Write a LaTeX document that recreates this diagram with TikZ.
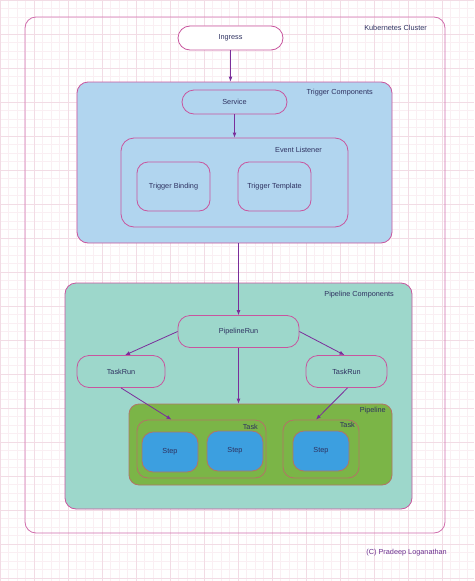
\documentclass[tikz,border=0pt]{standalone}
\usepackage{fontspec}
\setmainfont{Liberation Sans}
\usetikzlibrary{arrows.meta,positioning}
\definecolor{GridPink}{HTML}{FAEFF3}
\definecolor{GridPinkMajor}{HTML}{F2DCE5}
\definecolor{EdgePink}{HTML}{C8559E}
\definecolor{TaskBrown}{HTML}{B27465}
\definecolor{LabelInk}{HTML}{2E3160}
\definecolor{FlowPurple}{HTML}{7A2E9B}
\definecolor{TriggerBlue}{HTML}{B1D5EF}
\definecolor{PipeTeal}{HTML}{9DD7CB}
\definecolor{PipeGreen}{HTML}{7BB547}
\definecolor{StepBlue}{HTML}{3C9FE0}

\tikzset{
  box/.style={draw=EdgePink,line width=0.8pt,rounded corners=11pt,inner sep=0pt,
    text=LabelInk,font=\fontsize{7.3}{8}\selectfont},
  pill/.style={box,rounded corners=12pt,fill=white},
  taskbox/.style={box,draw=TaskBrown,fill=PipeGreen},
  stepbox/.style={box,draw=TaskBrown,fill=StepBlue,minimum width=56pt,minimum height=40pt},
  tag/.style={text=LabelInk,font=\fontsize{7.3}{8}\selectfont,inner sep=0pt},
  flow/.style={-{Latex[length=5pt,width=4pt]},FlowPurple,line width=0.8pt},
}

\begin{document}
\begin{tikzpicture}[x=1pt,y=-1pt]
  \useasboundingbox (0,0) rectangle (474,581);
  % grid paper
  \fill[white] (0,0) rectangle (474,581);
  \draw[GridPink,line width=0.4pt,step=8.5pt] (0,0) grid (474,581);
  \draw[GridPinkMajor,line width=0.5pt,step=34pt] (0,0) grid (474,581);

  % containers
  \node[box,draw=EdgePink!85,minimum width=420pt,minimum height=516pt] (cluster) at (235,275) {};
  \node[tag,anchor=east] (clustertag) at (427,28) {Kubernetes Cluster};

  \node[box,fill=TriggerBlue,minimum width=315pt,minimum height=161pt] (trigger) at (234.5,162.5) {};
  \node[tag,anchor=east] (triggertag) at (373,93) {Trigger Components};
  \node[box,fill=TriggerBlue,minimum width=227pt,minimum height=89pt,rounded corners=13pt] (listener) at (234.5,182.5) {};
  \node[tag,anchor=east] (listenertag) at (322,150) {Event Listener};

  \node[box,fill=PipeTeal,minimum width=347pt,minimum height=226pt] (pipecomp) at (238.5,396) {};
  \node[tag,anchor=east] (pipecomptag) at (394,295) {Pipeline Components};
  \node[box,draw=TaskBrown,fill=PipeGreen,minimum width=263pt,minimum height=81pt,rounded corners=10pt] (pipeline) at (260.5,444.5) {};
  \node[tag,anchor=east] (pipelinetag) at (386,411) {Pipeline};
  \node[taskbox,minimum width=129pt,minimum height=58pt] (task1) at (201.5,449) {};
  \node[tag,anchor=east] (task1tag) at (258,427) {Task};
  \node[taskbox,minimum width=76pt,minimum height=58pt] (task2) at (321,449) {};
  \node[tag,anchor=east] (task2tag) at (355,425) {Task};

  % nodes
  \node[pill,minimum width=105pt,minimum height=24pt] (ingress) at (230.5,38) {Ingress};
  \node[pill,fill=TriggerBlue,minimum width=105pt,minimum height=24pt] (service) at (234.5,102) {Service};
  \node[box,fill=TriggerBlue,minimum width=73pt,minimum height=49pt] (binding) at (173.5,186.5) {Trigger Binding};
  \node[box,fill=TriggerBlue,minimum width=73pt,minimum height=49pt] (template) at (274.5,186.5) {Trigger Template};
  \node[pill,fill=PipeTeal,minimum width=121pt,minimum height=32pt] (pipelinerun) at (238.5,331.5) {PipelineRun};
  \node[pill,fill=PipeTeal,minimum width=88pt,minimum height=32pt] (taskrunL) at (121,371.5) {TaskRun};
  \node[pill,fill=PipeTeal,minimum width=81pt,minimum height=32pt] (taskrunR) at (346.5,371.5) {TaskRun};
  \node[stepbox] (step1) at (170,452) {Step};
  \node[stepbox] (step2) at (235,451) {Step};
  \node[stepbox] (step3) at (321,451) {Step};

  % connectors
  \draw[flow] (ingress.south) -- (ingress.south |- trigger.north);
  \draw[flow] (service.south) -- (service.south |- listener.north);
  \draw[flow] (pipelinerun.north |- trigger.south) -- (pipelinerun.north);
  \draw[flow] (pipelinerun.west) -- ([xshift=4pt]taskrunL.north);
  \draw[flow] (pipelinerun.east) -- ([xshift=-2pt]taskrunR.north);
  \draw[flow] (pipelinerun.south) -- (pipelinerun.south |- pipeline.north);
  \draw[flow] (taskrunL.south) -- ([xshift=-30pt]task1.north);
  \draw[flow] ([xshift=1pt]taskrunR.south) -- ([xshift=-5pt]task2.north);

  \node[tag,anchor=east,text=FlowPurple!80!LabelInk] (credit) at (447,553) {(C) Pradeep Loganathan};
\end{tikzpicture}
\end{document}
